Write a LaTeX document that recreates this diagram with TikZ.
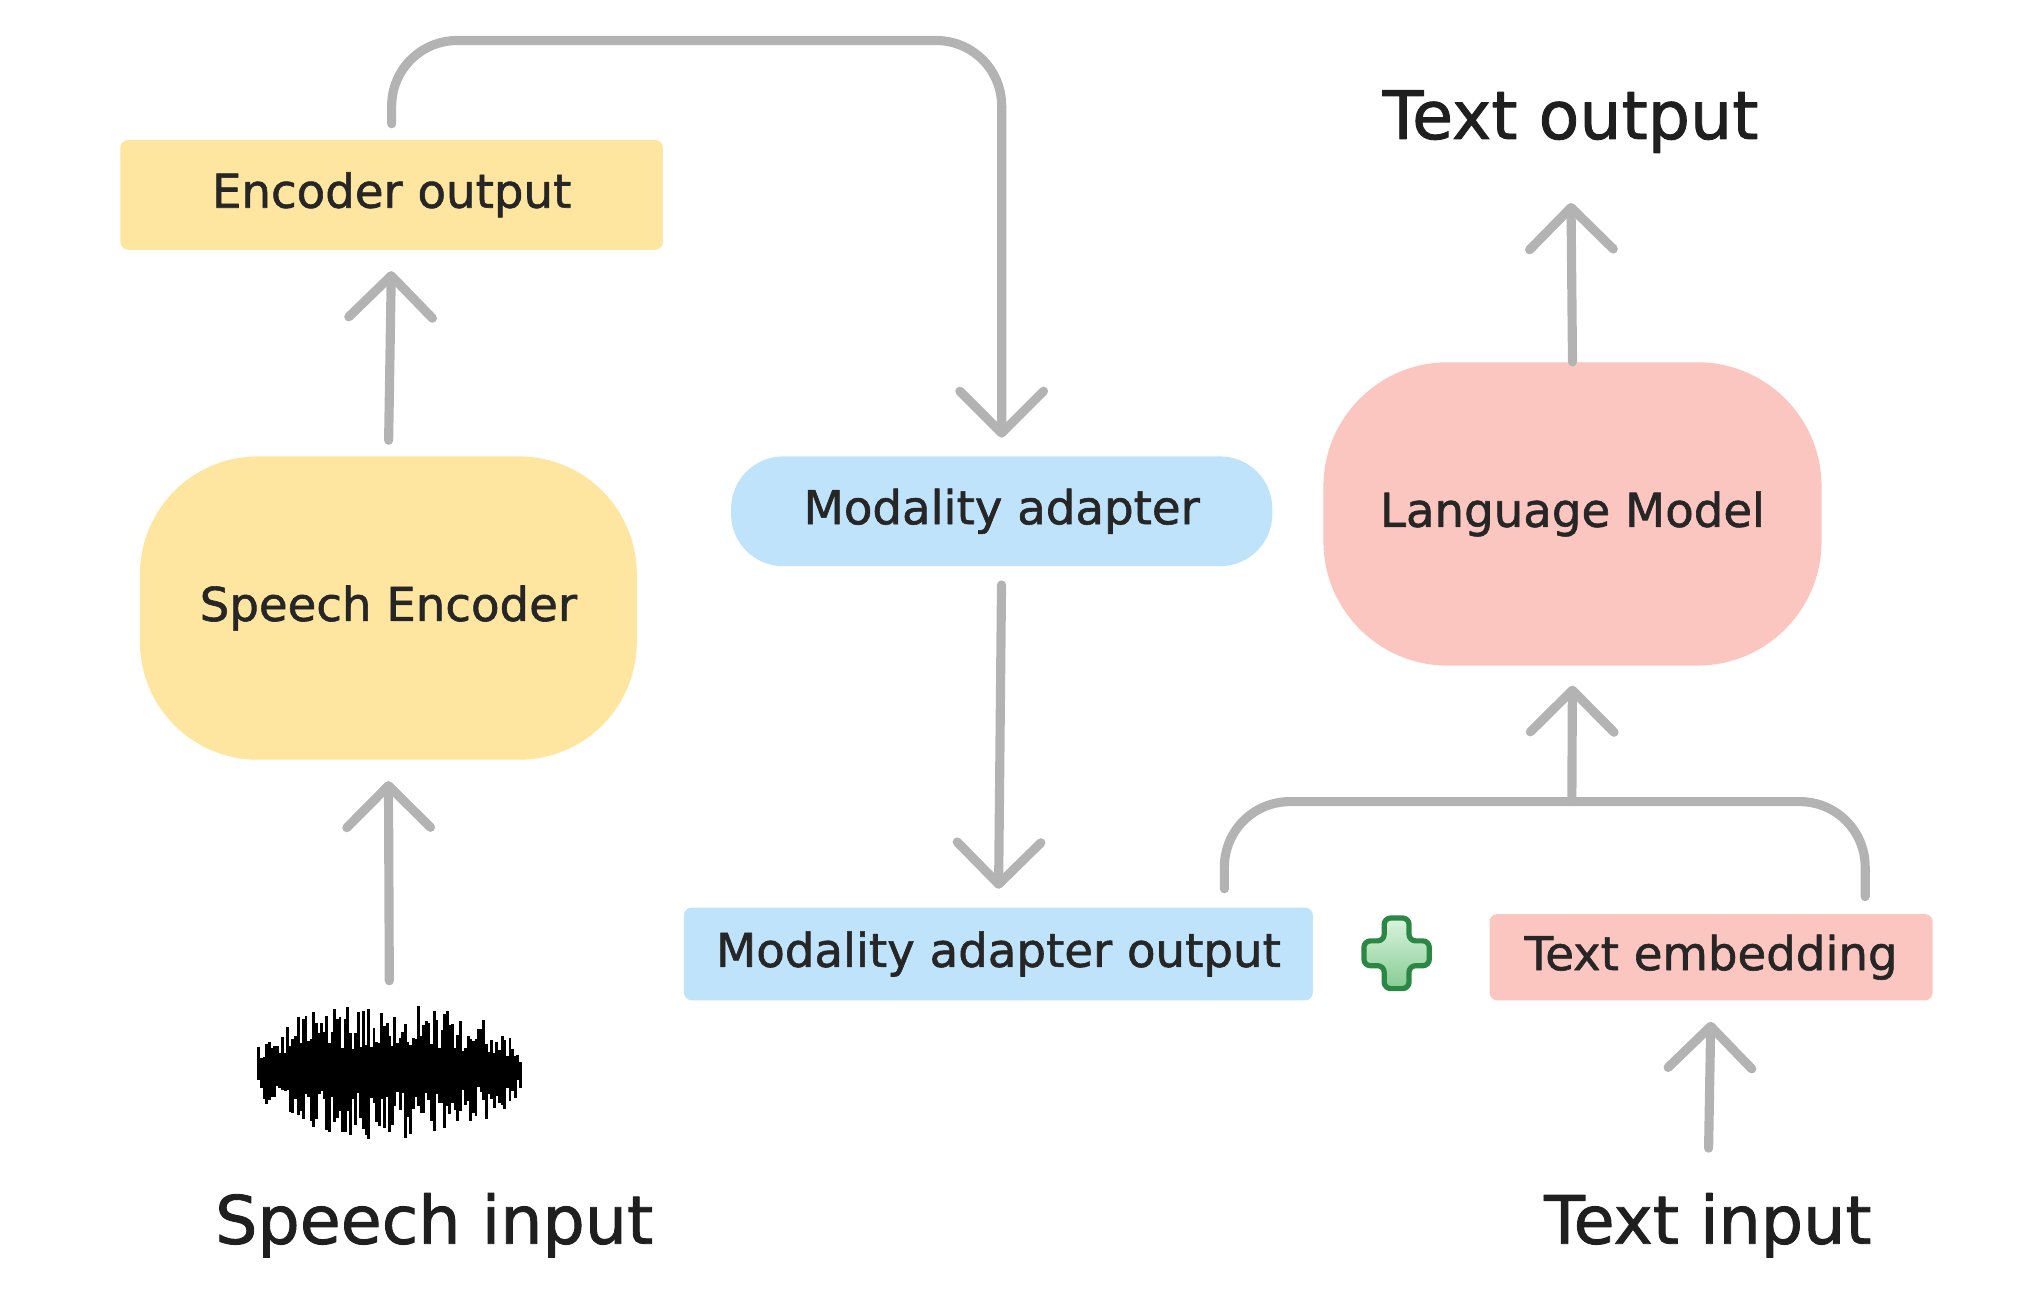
\documentclass[tikz,border=0pt]{standalone}
\usepackage{fontspec}
\setmainfont{DejaVu Sans}[FakeBold=1.3]
\usetikzlibrary{arrows.meta,calc}
\definecolor{encyellow}{HTML}{FEE6A1}
\definecolor{adaptblue}{HTML}{BEE3FB}
\definecolor{lmpink}{HTML}{FCC6C0}
\definecolor{arrgray}{HTML}{B3B3B3}
\definecolor{plusgreen}{HTML}{2B8744}
\definecolor{plustop}{HTML}{DAF3DE}
\definecolor{plusbot}{HTML}{86CC93}
\definecolor{txtdark}{HTML}{262626}
\newcommand\boxfont{\fontsize{20.3}{24}\selectfont}
\newcommand\bigfont{\fontsize{29}{34}\selectfont}
\begin{document}
\begin{tikzpicture}[x=0.02cm, y=-0.02cm, line join=round, line cap=round,
    box/.style={rounded corners=0.12cm, inner sep=0pt, text=txtdark, font=\boxfont},
    bigbox/.style={box, minimum height=4.64cm, rounded corners=1.8cm},
    biglabel/.style={inner sep=0pt, text=black!88, font=\bigfont},
    conn/.style={draw=arrgray, line width=0.14cm},
    arr/.style={conn, -{Straight Barb[length=0.64cm, width=1.28cm, round]}},
    wave/.style={line width=0.045cm, line cap=butt}]
    \useasboundingbox (0,0) rectangle (1560,1003);
    % blocks
    \node[box, fill=encyellow, minimum width=8.3cm, minimum height=1.68cm] (eo) at (299.5,149) {Encoder output};
    \node[bigbox, fill=encyellow, minimum width=7.6cm] (se) at (297,465) {Speech Encoder};
    \node[box, fill=adaptblue, minimum width=8.28cm, minimum height=1.68cm, rounded corners=0.8cm] (ma) at (766,391) {Modality adapter};
    \node[box, fill=adaptblue, minimum width=9.62cm, minimum height=1.42cm] (mao) at (763.5,729.5) {Modality adapter output};
    \node[bigbox, fill=lmpink, minimum width=7.62cm, rounded corners=1.9cm] (lm) at (1202.5,393) {Language Model};
    \node[box, fill=lmpink, minimum width=6.78cm, minimum height=1.32cm] (te) at (1308.5,732) {Text embedding};
    % labels
    \node[biglabel] (sin) at (332,937) {Speech input};
    \node[biglabel] (tin) at (1306,937) {Text input};
    \node[biglabel] (tout) at (1201,93) {Text output};
    \coordinate (wave) at (298,818);
    \coordinate (top) at (0,31);
    \coordinate (join) at (1202,613);
    % waveform
    \pgfmathsetseed{7}
    \foreach \i in {0,...,100}{
        \pgfmathsetmacro\env{12+42*sqrt(sin(1.773*(\i+1)))}
        \pgfmathsetmacro\up{\env*(0.3+0.7*rnd)}
        \pgfmathsetmacro\dn{\env*(0.3+0.7*rnd)}
        \draw[wave] ($(wave)+(2*\i-100,-\up)$) -- ($(wave)+(2*\i-100,\dn)$);
    }
    % plus
    \coordinate (plus) at (1068,729);
    \path[shift={(plus)}, top color=plustop, bottom color=plusbot, draw=plusgreen,
        line width=0.08cm, rounded corners=0.1cm]
        (-9.5,-27) -- (9.5,-27) -- (9.5,-9.5) -- (25,-9.5) -- (25,9.5) -- (9.5,9.5)
        -- (9.5,27) -- (-9.5,27) -- (-9.5,9.5) -- (-25,9.5) -- (-25,-9.5) -- (-9.5,-9.5) -- cycle;
    % arrows
    \draw[arr, shorten <=1.36cm, shorten >=0.32cm] (wave) -- (se.south);
    \draw[arr, shorten <=0.24cm, shorten >=0.32cm] (se.north) -- (eo.south);
    \draw[arr, rounded corners=1cm, shorten <=0.24cm, shorten >=0.28cm] (eo.north) -- (eo.north |- top) -- (ma.north |- top) -- (ma.north);
    \draw[arr, shorten <=0.28cm, shorten >=0.28cm] (ma.south) -- (mao.north);
    \draw[conn, rounded corners=1cm] ($(mao.north east)+(-68,-14)$) |- (join) -| ($(te.north east)+(-52,-13)$);
    \draw[arr, shorten >=0.3cm] (join) -- (lm.south);
    \draw[arr, shorten >=0.76cm] (lm.north) -- (tout.south);
    \draw[arr, shorten <=0.68cm, shorten >=0.32cm] (tin.north) -- (te.south);
\end{tikzpicture}
\end{document}
